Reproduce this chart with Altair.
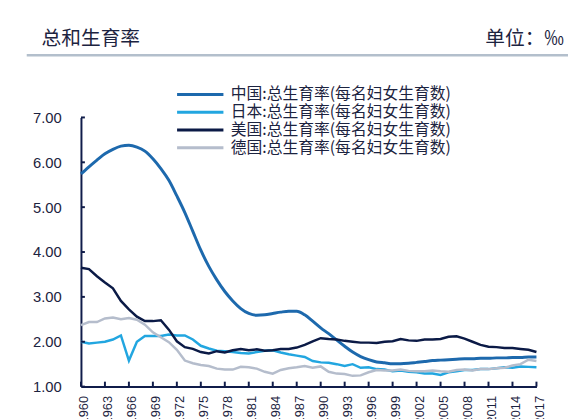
import altair as alt
import pandas as pd

years = list(range(1960, 2018))

china = [5.74, 5.90, 6.05, 6.19, 6.29, 6.36, 6.38, 6.34, 6.25, 6.08,
         5.86, 5.60, 5.25, 4.88, 4.46, 4.04, 3.68, 3.38, 3.12, 2.91,
         2.74, 2.63, 2.59, 2.60, 2.63, 2.66, 2.68, 2.68, 2.60, 2.46,
         2.31, 2.18, 2.04, 1.90, 1.77, 1.67, 1.60, 1.55, 1.53, 1.51,
         1.51, 1.52, 1.54, 1.56, 1.58, 1.59, 1.60, 1.61, 1.62, 1.62,
         1.63, 1.63, 1.64, 1.64, 1.65, 1.65, 1.66, 1.66]

japan = [2.00, 1.96, 1.98, 2.00, 2.05, 2.14, 1.58, 2.00, 2.13, 2.13,
         2.13, 2.16, 2.14, 2.14, 2.05, 1.91, 1.85, 1.80, 1.79, 1.77,
         1.75, 1.74, 1.77, 1.80, 1.81, 1.76, 1.72, 1.69, 1.66, 1.57,
         1.54, 1.53, 1.50, 1.46, 1.50, 1.42, 1.43, 1.39, 1.38, 1.34,
         1.36, 1.33, 1.32, 1.29, 1.29, 1.26, 1.32, 1.34, 1.37, 1.37,
         1.39, 1.39, 1.41, 1.43, 1.42, 1.45, 1.44, 1.43]

usa = [3.65, 3.62, 3.46, 3.32, 3.19, 2.91, 2.72, 2.56, 2.46, 2.46,
       2.48, 2.27, 2.01, 1.88, 1.84, 1.77, 1.74, 1.79, 1.76, 1.81,
       1.84, 1.81, 1.83, 1.80, 1.81, 1.84, 1.84, 1.87, 1.93, 2.01,
       2.08, 2.06, 2.05, 2.02, 2.00, 1.98, 1.98, 1.97, 2.00, 2.01,
       2.06, 2.03, 2.02, 2.05, 2.05, 2.06, 2.11, 2.12, 2.07, 2.00,
       1.93, 1.89, 1.88, 1.86, 1.86, 1.84, 1.82, 1.77]

germany = [2.37, 2.44, 2.44, 2.52, 2.54, 2.50, 2.53, 2.49, 2.38, 2.21,
           2.10, 1.99, 1.82, 1.58, 1.52, 1.48, 1.46, 1.40, 1.38, 1.38,
           1.44, 1.43, 1.40, 1.33, 1.29, 1.37, 1.41, 1.43, 1.46, 1.42,
           1.45, 1.33, 1.29, 1.28, 1.24, 1.25, 1.32, 1.37, 1.36, 1.36,
           1.38, 1.35, 1.34, 1.34, 1.36, 1.34, 1.33, 1.37, 1.38, 1.36,
           1.39, 1.39, 1.41, 1.42, 1.47, 1.50, 1.60, 1.57]

series_names = ["中国:总生育率(每名妇女生育数)",
                "日本:总生育率(每名妇女生育数)",
                "美国:总生育率(每名妇女生育数)",
                "德国:总生育率(每名妇女生育数)"]
series_colors = ["#1d69ad", "#22a6e0", "#0b1a46", "#b5bdcc"]
series_widths = [3, 2.5, 2.5, 2.5]

x_ticks = list(range(1960, 2018, 3))
y_ticks = [1, 2, 3, 4, 5, 6, 7]

title_text = "总和生育率"
unit_text = "单位：‰"

axis_color = "#101c4a"
text_color = "#1c2340"

rows = []
for name, vals, w in zip(series_names, [china, japan, usa, germany], series_widths):
    for yr, v in zip(years, vals):
        rows.append({"year": yr, "value": v, "series": name, "w": w})
df = pd.DataFrame(rows)
df_china = df[df["series"] == series_names[0]]
df_other = df[df["series"] != series_names[0]]

W, H = 462, 273

xscale = alt.Scale(domain=[1960, 2017], nice=False, zero=False)
yscale = alt.Scale(domain=[1, 7], nice=False, zero=False)

xaxis = alt.Axis(values=x_ticks, format="d", labelAngle=270, labelFontSize=13,
                 labelFont="Liberation Sans", labelColor=text_color, labelPadding=9,
                 ticks=False, tickSize=0, domainColor=axis_color, domainWidth=2,
                 grid=False, title=None, labelOffset=3, labelFlush=False,
                 labelOverlap=False)
yaxis = alt.Axis(values=y_ticks, format=".2f", labelFontSize=15,
                 labelFont="Liberation Sans", labelColor=text_color, labelPadding=20,
                 ticks=False, tickSize=0, domainColor=axis_color, domainWidth=2,
                 grid=False, title=None)

X = alt.X("year:Q", scale=xscale, axis=xaxis)
Y = alt.Y("value:Q", scale=yscale, axis=yaxis)

color_enc = alt.Color("series:N",
                      scale=alt.Scale(domain=series_names, range=series_colors),
                      legend=alt.Legend(orient="none", legendX=96, legendY=-32,
                                        title=None, symbolType="stroke",
                                        symbolSize=2209, symbolStrokeWidth=3,
                                        labelFontSize=16, labelFont="Noto Sans CJK SC",
                                        labelColor=text_color, labelOffset=6,
                                        rowPadding=0, clipHeight=17.5, padding=0,
                                        labelLimit=400))
width_enc = alt.StrokeWidth("w:Q", scale=None, legend=None)

lines_other = alt.Chart(df_other).mark_line(clip=False).encode(
    x=X, y=Y, color=color_enc, strokeWidth=width_enc, order=alt.Order("year:Q"))

line_china = alt.Chart(df_china).mark_line(clip=False, interpolate="monotone").encode(
    x=X, y=Y, color=color_enc, strokeWidth=width_enc, order=alt.Order("year:Q"))

ytick_layer = alt.Chart(pd.DataFrame({"value": y_ticks})).mark_rule(
    color=axis_color, strokeWidth=2).encode(
    y=Y, x=alt.value(0), x2=alt.value(4))

xtick_layer = alt.Chart(pd.DataFrame({"year": x_ticks})).mark_rule(
    color=axis_color, strokeWidth=2).encode(
    x=X, y=alt.value(H), y2=alt.value(H - 5))

one = pd.DataFrame({"t": [title_text], "u": [unit_text]})

title_layer = alt.Chart(one).mark_text(
    align="left", baseline="middle", fontSize=20, font="Noto Sans CJK SC",
    color=text_color).encode(text="t:N", x=alt.value(-40), y=alt.value(-79.5))

unit_layer = alt.Chart(one).mark_text(
    align="right", baseline="middle", fontSize=20, font="Noto Sans CJK SC",
    color=text_color).encode(text="u:N", x=alt.value(490), y=alt.value(-79.5))

sep_layer = alt.Chart(one).mark_rule(color="#b3bfcc", strokeWidth=2.5).encode(
    x=alt.value(-55), x2=alt.value(500), y=alt.value(-63))

chart = alt.layer(sep_layer, title_layer, unit_layer, line_china, lines_other,
                  ytick_layer, xtick_layer).properties(
    width=W, height=H,
    padding={"left": 74, "top": 108, "right": 32, "bottom": 40},
    autosize=alt.AutoSizeParams(type="none"),
    background="white",
).configure_view(stroke=None)

chart.save("out.html", embed_options={"renderer": "svg", "actions": False})
